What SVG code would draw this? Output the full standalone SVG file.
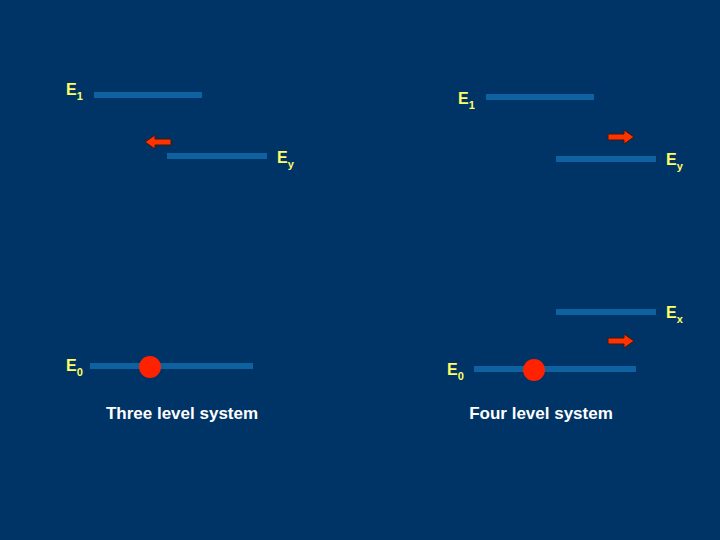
<svg xmlns="http://www.w3.org/2000/svg" width="720" height="540" viewBox="0 0 720 540">
<style>
.lv{fill:#0f62a0}
.t{font-family:"Liberation Sans",Arial,sans-serif;font-weight:bold;font-size:16px;fill:#ffff66}
.s{font-size:11px}
.c{font-family:"Liberation Sans",Arial,sans-serif;font-weight:bold;font-size:17px;fill:#ffffff}
.ar{fill:#ff3300;stroke:#3a1a10;stroke-width:1}
.dot{fill:#ff2200}
</style>
<rect width="720" height="540" fill="#003466"/>
<g id="three">
<rect class="lv" x="94" y="92" width="108" height="6"/>
<rect class="lv" x="167" y="153" width="100" height="6"/>
<rect class="lv" x="90" y="363" width="163" height="6"/>
<circle class="dot" cx="150" cy="367" r="11"/>
<path class="ar" d="M171,139 H155 V135 L145,142 L155,149 V145 H171 Z"/>
<text class="t" x="66" y="95">E<tspan class="s" dy="5">1</tspan></text>
<text class="t" x="277" y="163">E<tspan class="s" dy="5">y</tspan></text>
<text class="t" x="66" y="371">E<tspan class="s" dy="5">0</tspan></text>
<text class="c" x="182" y="419" text-anchor="middle">Three level system</text>
</g>
<g id="four">
<rect class="lv" x="486" y="94" width="108" height="6"/>
<rect class="lv" x="556" y="156" width="100" height="6"/>
<rect class="lv" x="556" y="309" width="100" height="6"/>
<rect class="lv" x="474" y="366" width="162" height="6"/>
<circle class="dot" cx="534" cy="370" r="11"/>
<path class="ar" d="M608,134 H624 V130 L634,137 L624,144 V140 H608 Z"/>
<path class="ar" d="M608,338 H624 V334 L634,341 L624,348 V344 H608 Z"/>
<text class="t" x="458" y="104">E<tspan class="s" dy="5">1</tspan></text>
<text class="t" x="666" y="165">E<tspan class="s" dy="5">y</tspan></text>
<text class="t" x="666" y="318">E<tspan class="s" dy="5">x</tspan></text>
<text class="t" x="447" y="375">E<tspan class="s" dy="5">0</tspan></text>
<text class="c" x="541" y="419" text-anchor="middle">Four level system</text>
</g>
<g id="connectors"/>
</svg>
